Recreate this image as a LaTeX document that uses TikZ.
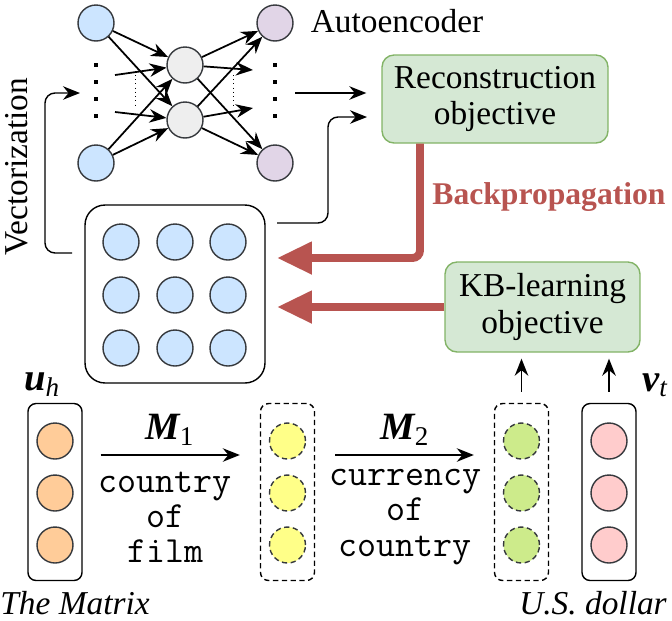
\documentclass[tikz,border=0pt]{standalone}
\usepackage{fontspec}
\setmainfont{Liberation Serif}
\usetikzlibrary{arrows.meta}

\definecolor{linegray}{HTML}{36393D}
\definecolor{inblue}{HTML}{CCE5FF}
\definecolor{hidgray}{HTML}{EEEEEE}
\definecolor{outpurple}{HTML}{E1D5E7}
\definecolor{headorange}{HTML}{FFCC99}
\definecolor{midyellow}{HTML}{FFFF88}
\definecolor{midgreen}{HTML}{CDEB8B}
\definecolor{tailpink}{HTML}{FFCCCC}
\definecolor{objfill}{HTML}{D5E8D4}
\definecolor{objline}{HTML}{82B366}
\definecolor{bpred}{HTML}{B85450}

\tikzset{
  neuron/.style={circle, draw=linegray, line width=0.8pt, minimum size=0.72cm, inner sep=0pt},
  vecbox/.style={draw, line width=0.8pt, rounded corners=0.16cm, minimum width=1.08cm, minimum height=3.54cm},
  objective/.style={draw=objline, fill=objfill, line width=0.8pt, rounded corners=0.24cm, align=center},
  arr/.style={-{Stealth[length=0.34cm,width=0.27cm]}, line width=1pt},
  bp/.style={draw=bpred, line width=4.5pt, -{Triangle[length=0.7cm,width=0.62cm]}, rounded corners=0.15cm},
  reltext/.style={font=\fontsize{21}{20}\selectfont\ttfamily, align=center}
}

\begin{document}
\begin{tikzpicture}[x=0.02cm, y=-0.02cm, font=\fontsize{19}{21}\selectfont]
  \useasboundingbox (0,0) rectangle (672,620);

  % autoencoder
  \node[neuron, fill=inblue] (in1) at (96,23) {};
  \node[neuron, fill=inblue] (in2) at (96,163) {};
  \node[neuron, fill=hidgray] (hid1) at (185,65) {};
  \node[neuron, fill=hidgray] (hid2) at (185,120) {};
  \node[neuron, fill=outpurple] (out1) at (275,23) {};
  \node[neuron, fill=outpurple] (out2) at (275,163) {};
  \foreach \y in {65,82,99,116} {
    \fill (96,\y) +(-2,-2) rectangle +(2,2);
    \fill (275,\y) +(-2,-2) rectangle +(2,2);
  }
  \draw[dotted, thin] (135,75) -- (135,105);
  \draw[dotted, thin] (233,75) -- (233,105);
  \coordinate (dot1) at (115,75);
  \coordinate (dot2) at (115,112);
  \coordinate (skip1) at (253,70);
  \coordinate (skip2) at (253,108);
  \foreach \a in {in1,in2} \foreach \b in {hid1,hid2} \draw[arr] (\a) -- (\b);
  \foreach \a in {hid1,hid2} \foreach \b in {out1,out2} \draw[arr] (\a) -- (\b);
  \draw[arr] (dot1) -- (hid1);
  \draw[arr] (dot2) -- (hid2);
  \draw[arr] (hid1) -- (skip1);
  \draw[arr] (hid2) -- (skip2);
  \node (ae) at (397,21) {Autoencoder};

  % objectives
  \node[objective, minimum width=4.52cm, minimum height=1.76cm] (recon) at (495,99) {Reconstruction\\objective};
  \node[objective, minimum width=3.9cm, minimum height=1.8cm] (kb) at (542.5,307) {KB-learning\\objective};
  \coordinate (aeout) at (295,93);
  \draw[arr, shorten >=0.3cm] (aeout) -- (aeout -| recon.west);

  % entity matrix
  \node[draw, line width=0.8pt, rounded corners=0.4cm, minimum width=3.6cm, minimum height=3.56cm] (mat) at (175,294) {};
  \foreach \i/\y in {1/242,2/295,3/348}
    \foreach \j/\x in {1/121,2/175,3/228}
      \node[neuron, fill=inblue] (m\i\j) at (\x,\y) {};

  \coordinate (vecout) at (72,253);
  \coordinate (vecin) at (80,93);
  \draw[arr, line width=0.8pt, rounded corners=0.2cm] (vecout) -- ++(-27,0) |- (vecin);
  \node[rotate=90] (vec) at (17,167) {Vectorization};

  \coordinate (matout) at (277,223);
  \coordinate (reconin) at (367,117);
  \draw[arr, line width=0.8pt, rounded corners=0.2cm] (matout) -- ++(51,0) |- (reconin);

  % backpropagation
  \coordinate (bpturn) at (420,258);
  \coordinate (bptip) at (277,258);
  \draw[bp] (recon.south -| bpturn) -- (bpturn) -- (bptip);
  \draw[bp] (kb.west) -- (kb.west -| bptip);
  \node[font=\fontsize{18}{20}\selectfont\bfseries, text=bpred] (bplabel) at (549,197) {Backpropagation};

  % triple vectors
  \node[vecbox] (uh) at (55,492) {};
  \node[vecbox, dash pattern=on 3pt off 2pt] (yl) at (287.5,492) {};
  \node[vecbox, dash pattern=on 3pt off 2pt] (gr) at (521.5,492) {};
  \node[vecbox] (vt) at (609,492) {};
  \foreach \k/\y in {1/441,2/493,3/545} {
    \node[neuron, fill=headorange] (uh\k) at (55,\y) {};
    \node[neuron, fill=midyellow, dash pattern=on 3pt off 2pt] (yl\k) at (287.5,\y) {};
    \node[neuron, fill=midgreen, dash pattern=on 3pt off 2pt] (gr\k) at (521.5,\y) {};
    \node[neuron, fill=tailpink] (vt\k) at (609,\y) {};
  }
  \node[font=\fontsize{22}{24}\selectfont] (uhlabel) at (42,385) {{\bfseries\itshape u}\textsubscript{\itshape h}};
  \node[font=\fontsize{22}{24}\selectfont] (vtlabel) at (655,385) {{\bfseries\itshape v}\textsubscript{\itshape t}};
  \node[font=\fontsize{19}{21}\selectfont\itshape] (head) at (75,603) {The Matrix};
  \node[font=\fontsize{19}{21}\selectfont\itshape] (tail) at (593,603) {U.S. dollar};

  \coordinate (arrowrow) at (0,455);
  \draw[arr, shorten <=0.36cm, shorten >=0.4cm] (uh.east |- arrowrow) -- (yl.west |- arrowrow);
  \draw[arr, shorten <=0.4cm, shorten >=0.4cm] (yl.east |- arrowrow) -- (gr.west |- arrowrow);
  \node[font=\fontsize{22}{24}\selectfont] (m1) at (170,430) {{\bfseries\itshape M}\textsubscript{1}};
  \node[font=\fontsize{22}{24}\selectfont] (m2) at (405,430) {{\bfseries\itshape M}\textsubscript{2}};
  \node[reltext] (rel1) at (165,517) {country\\of\\film};
  \node[reltext] (rel2) at (405,517) {currency\\of\\country};

  \draw[arr, shorten <=0.22cm, shorten >=0.12cm] (gr.north) -- (gr.north |- kb.south);
  \draw[arr, shorten <=0.22cm, shorten >=0.12cm] (vt.north) -- (vt.north |- kb.south);
\end{tikzpicture}
\end{document}
